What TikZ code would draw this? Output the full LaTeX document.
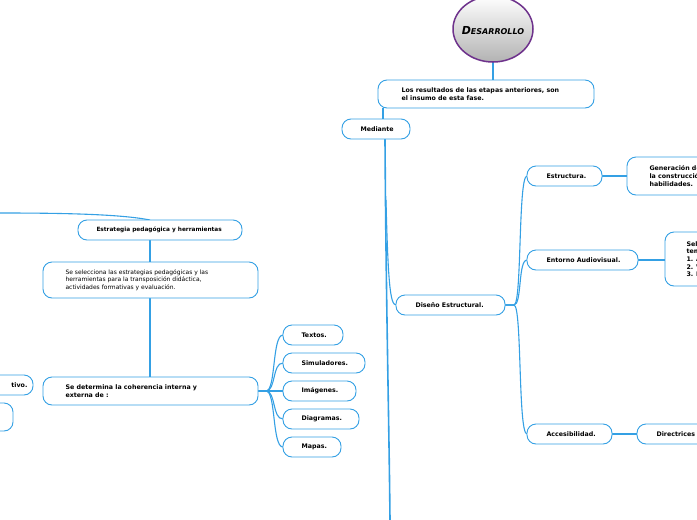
\documentclass[tikz,border=0pt]{standalone}
\usepackage{fontspec}
\setmainfont{DejaVu Sans}
\definecolor{ln}{RGB}{52,160,228}
\definecolor{pur}{RGB}{110,50,140}
\begin{document}
\begin{tikzpicture}[x=1pt,y=-1pt,
  bx/.style={draw=ln,line width=0.9pt,rounded corners=9pt,fill=white,inner sep=0pt},
  tx/.style={font=\fontsize{6.3}{7.6}\selectfont\bfseries,align=left,anchor=west},
  cn/.style={draw=ln,line width=1.1pt}]
\useasboundingbox (0,0) rectangle (697,520);
\clip (0,0) rectangle (697,520);
% connectors
\coordinate (tl) at (0,213);
\coordinate (bot) at (390,520);
\draw[cn] (tl) .. controls (60,213) and (120,214) .. (150,220);
\draw[cn] (493,60) -- (493,80);
\draw[cn] (383,108) -- (383,119);
\draw[cn,line width=1.6pt] (385,139) .. controls (386,300) and (389,420) .. (bot);
\draw[cn] (386,200) .. controls (388,280) and (390,305) .. (396,305);
\draw[cn] (150,240) -- (150,262);
\draw[cn] (150,298) -- (150,377);
\foreach \y in {335,363,391,419,447}{
  \draw[cn] (258,391) -- (266,391) .. controls (276,391) and (272,\y) .. (283,\y);}
\foreach \y in {176,260,434}{
  \draw[cn] (505,305) -- (514,305) .. controls (522,305) and (518,\y) .. (527,\y);}
\draw[cn] (602,176) -- (627,176);
\draw[cn] (638,260) -- (665,260);
\draw[cn] (612,434) -- (637,434);
% central ellipse
\shade[top color=white,bottom color=gray!60,draw=pur,line width=1.5pt] (493,29) ellipse (40pt and 33pt);
\node (des) at (493,31) {\itshape\bfseries{\fontsize{11}{12}\selectfont D}{\fontsize{8}{9}\selectfont ESARROLLO}};
% boxes
\draw[bx] (378,80) rectangle (594,108); \node[tx] (res) at (398,94) {Los resultados de las etapas anteriores, son\\el insumo de esta fase.};
\draw[bx] (342,119) rectangle (410,139); \node[tx] (med) at (357,129) {Mediante};
\draw[bx] (396,295) rectangle (505,315); \node[tx] (dis) at (412,305) {Diseño Estructural.};
\draw[bx] (527,166) rectangle (602,186); \node[tx] (est) at (543,176) {Estructura.};
\draw[bx] (627,157) rectangle (720,195); \node[tx] (gen) at (646,176) {Generación de\\la construcción\\habilidades.};
\draw[bx] (527,250) rectangle (638,270); \node[tx] (ent) at (543,260) {Entorno Audiovisual.};
\draw[bx] (665,232) rectangle (740,286); \node[tx] (sel) at (683,259) {Selección\\temas\\1. A\\2. V\\3. K};
\draw[bx] (527,424) rectangle (612,444); \node[tx] (acc) at (543,434) {Accesibilidad.};
\draw[bx] (637,424) rectangle (740,444); \node[tx] (dir) at (653,434) {Directrices};
\draw[bx] (78,220) rectangle (242,240); \node[tx,font=\fontsize{5.8}{7}\selectfont\bfseries] (estr) at (93,230) {Estrategia pedagógica y herramientas};
\draw[bx] (43,262) rectangle (258,298); \node[tx,font=\fontsize{6}{7.6}\selectfont] (sele) at (62,280) {Se selecciona las estrategias pedagógicas y las\\herramientas para la transposición didáctica,\\actividades formativas y evaluación.};
\draw[bx] (43,377) rectangle (258,405); \node[tx] (det) at (62,391) {Se determina la coherencia interna y\\externa de :};
\draw[bx] (283,325) rectangle (343,345); \node[tx] (t1) at (298,335) {Textos.};
\draw[bx] (283,353) rectangle (365,373); \node[tx] (t2) at (298,363) {Simuladores.};
\draw[bx] (283,381) rectangle (356,401); \node[tx] (t3) at (298,391) {Imágenes.};
\draw[bx] (283,409) rectangle (359,429); \node[tx] (t4) at (298,419) {Diagramas.};
\draw[bx] (283,437) rectangle (341,457); \node[tx] (t5) at (298,447) {Mapas.};
\draw[bx] (-60,375) rectangle (33,395); \node[tx,anchor=east] (ti) at (31,385) {tivo.};
\draw[bx] (-60,403) rectangle (13,431);
\end{tikzpicture}
\end{document}
